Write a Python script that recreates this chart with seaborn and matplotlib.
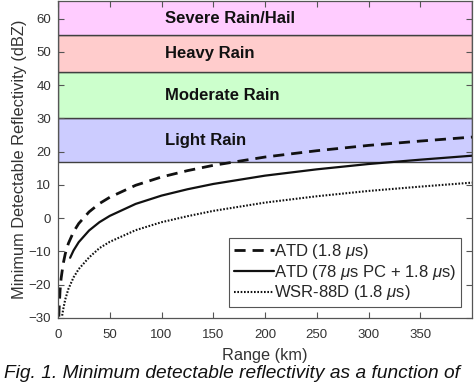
import numpy as np
import pandas as pd
import matplotlib
matplotlib.use('Agg')
import matplotlib.pyplot as plt
import seaborn as sns

# reflectivity bands (dBZ)
band_names = ['Light Rain', 'Moderate Rain', 'Heavy Rain', 'Severe Rain/Hail']
band_low = [17, 30, 44, 55]
band_high = [30, 44, 55, 66]
band_colors = ['#ccccff', '#ccffcc', '#ffcccc', '#ffccff']

# ATD (1.8 us)
atd_range = [0.8, 1, 2, 3, 5, 7, 10, 15, 20, 30, 40, 50, 75, 100, 125, 150,
             200, 250, 300, 350, 400]
atd_dbz = [-29.6, -27.6, -21.6, -18.1, -13.7, -10.7, -7.6, -4.1, -1.6, 1.9,
           4.4, 6.3, 9.9, 12.4, 14.3, 15.9, 18.4, 20.3, 21.9, 23.2, 24.4]

# ATD (78 us PC + 1.8 us)
pc_range = [11.7, 15, 20, 30, 40, 50, 75, 100, 125, 150, 200, 250, 300, 350, 400]
pc_dbz = [-11.9, -9.7, -7.2, -3.7, -1.2, 0.7, 4.3, 6.8, 8.7, 10.3, 12.8,
          14.7, 16.3, 17.6, 18.8]

# WSR-88D (1.8 us)
wsr_range = [4, 5, 7, 10, 15, 20, 30, 40, 50, 75, 100, 125, 150, 200, 250,
             300, 350, 400]
wsr_dbz = [-29.3, -27.4, -24.4, -21.3, -17.8, -15.3, -11.8, -9.0, -7.1, -3.6,
           -1.2, 0.6, 2.2, 4.7, 6.6, 8.2, 9.5, 10.7]

labels = [r'ATD (1.8 $\mu$s)', r'ATD (78 $\mu$s PC + 1.8 $\mu$s)',
          r'WSR-88D (1.8 $\mu$s)']

df = pd.concat([
    pd.DataFrame({'range': atd_range, 'dbz': atd_dbz, 'series': labels[0]}),
    pd.DataFrame({'range': pc_range, 'dbz': pc_dbz, 'series': labels[1]}),
    pd.DataFrame({'range': wsr_range, 'dbz': wsr_dbz, 'series': labels[2]}),
])

sns.set_style('ticks')
plt.rcParams['font.family'] = ['Liberation Sans', 'DejaVu Sans']
plt.rcParams['mathtext.fontset'] = 'custom'
plt.rcParams['mathtext.it'] = 'Liberation Sans:italic'
plt.rcParams['mathtext.rm'] = 'Liberation Sans'

fig = plt.figure(figsize=(4.74, 3.84), dpi=100)
ax = fig.add_axes([0.1224, 0.172, 0.8734, 0.826])

for lo, hi, c, name in zip(band_low, band_high, band_colors, band_names):
    ax.axhspan(lo, hi, facecolor=c, edgecolor='#404040', linewidth=1.0, zorder=0)
    ax.text(103, (lo + min(hi, 65.4)) / 2, name, fontsize=12, fontweight='bold',
            color='#111111', va='center', ha='left')

widths = {labels[0]: 2.0, labels[1]: 1.6, labels[2]: 1.5}
for lab in labels:
    sub = df[df['series'] == lab]
    sns.lineplot(data=sub, x='range', y='dbz', ax=ax, color='#111111',
                 linewidth=widths[lab], label=lab, sort=False)
ls = ax.get_lines()
ls[0].set_dashes((4, 2.5))
ls[2].set_dashes((0.8, 0.8))

ax.set_xlim(0, 400)
ax.set_ylim(-30, 65.4)
ax.set_xticks([0, 50, 100, 150, 200, 250, 300, 350])
ax.set_yticks([-30, -20, -10, 0, 10, 20, 30, 40, 50, 60])
ax.tick_params(direction='in', top=True, right=True, length=4, width=0.8,
               colors='#555555', labelsize=9.5, labelcolor='#333333', pad=5)
ax.tick_params(axis='x', pad=8)
for s in ax.spines.values():
    s.set_color('#555555')
    s.set_linewidth(0.9)

ax.set_xlabel('Range (km)', fontsize=11.7, color='#333333', labelpad=5)
ax.set_ylabel('Minimum Detectable Reflectivity (dBZ)', fontsize=11.8,
              color='#333333', labelpad=1)

leg = ax.legend(loc='lower right', bbox_to_anchor=(0.985, 0.02), fontsize=12,
                frameon=True, fancybox=False, handlelength=2.4,
                handletextpad=0.05, borderpad=0.25, labelspacing=0.1,
                borderaxespad=0.3)
leg.get_frame().set_edgecolor('#555555')
leg.get_frame().set_linewidth(0.8)
leg.get_frame().set_alpha(1)

fig.text(0.008, 0.016, 'Fig. 1. Minimum detectable reflectivity as a function of',
         fontsize=13.8, style='italic', color='#111111', ha='left', va='baseline')

fig.savefig('out.png', dpi=100)
